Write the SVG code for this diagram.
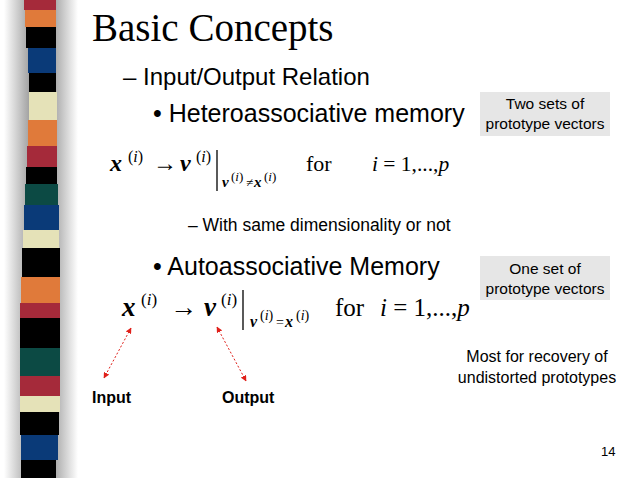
<svg xmlns="http://www.w3.org/2000/svg" width="638" height="478" viewBox="0 0 638 478">
<defs>
<linearGradient id="sh" x1="0" x2="1" y1="0" y2="0">
<stop offset="0" stop-color="#fff"/><stop offset="0.35" stop-color="#a0a0a0"/><stop offset="0.65" stop-color="#a0a0a0"/><stop offset="1" stop-color="#fff"/>
</linearGradient>
<marker id="ah" viewBox="0 0 10 10" refX="9" refY="5" markerWidth="6" markerHeight="6" orient="auto-start-reverse"><path d="M0,0L10,5L0,10z" fill="#e0201a"/></marker>
</defs>
<style>
.t{font-family:"Liberation Sans",Arial,sans-serif;fill:#000}
.m{font-family:"Liberation Serif","Times New Roman",serif;fill:#000}
.b{font-weight:bold;font-style:italic}
.i{font-style:italic}
.box{fill:#e6e6e6}
.red{stroke:#e0201a;stroke-width:1;stroke-dasharray:2,2;fill:none}
</style>
<rect width="638" height="478" fill="#fff"/>
<g id="stripes">
<rect x="4" y="0" width="74" height="478" fill="url(#sh)"/>
<rect x="24" y="0" width="32" height="10" fill="#a52a3a"/>
<rect x="25" y="10" width="31" height="17" fill="#e07a3a"/>
<rect x="26" y="27" width="30" height="21" fill="#000"/>
<rect x="28" y="48" width="28" height="25" fill="#0a3a78"/>
<rect x="29" y="73" width="27" height="19" fill="#000"/>
<rect x="29" y="92" width="28" height="28" fill="#e5e2b8"/>
<rect x="28" y="120" width="29" height="26" fill="#e07a3a"/>
<rect x="27" y="146" width="30" height="21" fill="#a52a3a"/>
<rect x="26" y="167" width="31" height="17" fill="#000"/>
<rect x="25" y="184" width="33" height="21" fill="#0c4a44"/>
<rect x="24" y="205" width="35" height="25" fill="#0a3a78"/>
<rect x="23" y="230" width="36" height="18" fill="#e5e2b8"/>
<rect x="22" y="248" width="38" height="29" fill="#000"/>
<rect x="21" y="277" width="39" height="26" fill="#e07a3a"/>
<rect x="20" y="303" width="40" height="15" fill="#a52a3a"/>
<rect x="20" y="318" width="40" height="30" fill="#000"/>
<rect x="20" y="348" width="40" height="28" fill="#0c4a44"/>
<rect x="20" y="376" width="40" height="20" fill="#a52a3a"/>
<rect x="20" y="396" width="40" height="16" fill="#e5e2b8"/>
<rect x="20" y="412" width="39" height="23" fill="#000"/>
<rect x="21" y="435" width="37" height="25" fill="#0a3a78"/>
<rect x="21" y="460" width="35" height="18" fill="#000"/>
</g>
<g id="title"><text x="92" y="41" class="m" font-size="39">Basic Concepts</text></g>
<g id="bullets">
<text x="123" y="85" class="t" font-size="24">– Input/Output Relation</text>
<text x="153" y="122" class="t" font-size="25">• Heteroassociative memory</text>
<text x="188" y="231" class="t" font-size="17.5">– With same dimensionality or not</text>
<text x="153" y="275" class="t" font-size="25">• Autoassociative Memory</text>
</g>
<g id="box1"><rect class="box" x="480" y="92" width="130" height="44"/>
<text class="t" font-size="15.5" text-anchor="middle"><tspan x="545" y="109">Two sets of</tspan><tspan x="545" y="129">prototype vectors</tspan></text></g>
<g id="box2"><rect class="box" x="480" y="256" width="130" height="44"/>
<text class="t" font-size="15.5" text-anchor="middle"><tspan x="545" y="274">One set of</tspan><tspan x="545" y="294">prototype vectors</tspan></text></g>
<g id="eq1">
<text x="110" y="171" class="m b" font-size="24">x</text>
<text x="128" y="162" class="m" font-size="16">(<tspan class="i">i</tspan>)</text>
<text x="153" y="171" class="m" font-size="24">→</text>
<text x="180" y="171" class="m b" font-size="24">v</text>
<text x="196" y="162" class="m" font-size="16">(<tspan class="i">i</tspan>)</text>
<line x1="217" y1="150" x2="217" y2="191" stroke="#000" stroke-width="1.3"/>
<text x="222" y="187" class="m b" font-size="15">v</text>
<text x="231" y="181" class="m" font-size="13">(<tspan class="i">i</tspan>)</text>
<text x="246" y="187" class="m" font-size="13">≠</text>
<text x="254" y="187" class="m b" font-size="15">x</text>
<text x="264" y="181" class="m" font-size="13">(<tspan class="i">i</tspan>)</text>
<text x="306" y="171" class="m" font-size="22">for</text>
<text x="372" y="171" class="m" font-size="21.5"><tspan class="i">i</tspan> = 1,...,<tspan class="i">p</tspan></text>
</g>
<g id="eq2">
<text x="122" y="316" class="m b" font-size="27">x</text>
<text x="141" y="305" class="m" font-size="17">(<tspan class="i">i</tspan>)</text>
<text x="170" y="316" class="m" font-size="27">→</text>
<text x="204" y="316" class="m b" font-size="27">v</text>
<text x="221" y="305" class="m" font-size="17">(<tspan class="i">i</tspan>)</text>
<line x1="243" y1="290" x2="243" y2="330" stroke="#000" stroke-width="1.3"/>
<text x="250" y="327" class="m b" font-size="16">v</text>
<text x="260" y="320" class="m" font-size="14">(<tspan class="i">i</tspan>)</text>
<text x="276" y="327" class="m" font-size="14">=</text>
<text x="285" y="327" class="m b" font-size="16">x</text>
<text x="296" y="320" class="m" font-size="14">(<tspan class="i">i</tspan>)</text>
<text x="335" y="316" class="m" font-size="25">for</text>
<text x="380" y="316" class="m" font-size="25"><tspan class="i">i</tspan> = 1,...,<tspan class="i">p</tspan></text>
</g>
<g id="note"><text class="t" font-size="16" text-anchor="middle"><tspan x="537" y="362">Most for recovery of</tspan><tspan x="537" y="383">undistorted prototypes</tspan></text></g>
<g id="connectors">
<line class="red" x1="131" y1="328" x2="104" y2="378" marker-start="url(#ah)" marker-end="url(#ah)"/>
<line class="red" x1="217" y1="327" x2="246" y2="381" marker-start="url(#ah)" marker-end="url(#ah)"/>
</g>
<g id="labels">
<text x="92" y="403" class="t" font-size="16" font-weight="bold">Input</text>
<text x="222" y="403" class="t" font-size="16" font-weight="bold">Output</text>
<text x="601" y="456" class="t" font-size="13">14</text>
</g>
</svg>
